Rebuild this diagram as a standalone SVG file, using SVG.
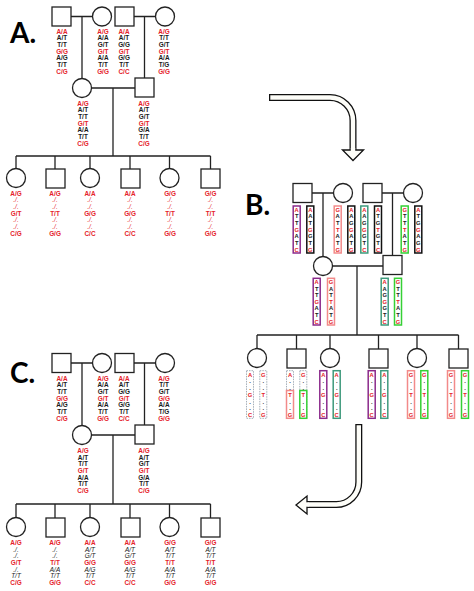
<svg xmlns="http://www.w3.org/2000/svg" width="474" height="591" viewBox="0 0 474 591">
<defs>
<style>
.s{fill:#fff;stroke:#222;stroke-width:1.3}
.ln{fill:none;stroke:#222;stroke-width:1.3}
.g{font-family:"Liberation Sans",Arial,sans-serif;font-size:6.4px;font-weight:bold;text-anchor:middle}
.r{fill:#e52129}
.k{fill:#1a1a1a}
.i{font-style:italic;font-weight:normal}
.lbl{font-family:Lato,"Open Sans",sans-serif;font-weight:bold;font-size:28px;fill:#000}
.hb{fill:#fff;stroke-width:1.5}
.h{font-family:"Liberation Sans",Arial,sans-serif;font-size:5.8px;font-weight:bold;text-anchor:middle}
.pu{stroke:#8b2a8b}
.sa{stroke:#f28a8a}
.te{stroke:#3e9a7c}
.gr{stroke:#35d035}
.bk{stroke:#111}
.dg{fill:#fff;stroke:#a4aeb8;stroke-dasharray:1.5 1;stroke-width:1}
.ao{fill:none;stroke:#111;stroke-width:7}
.ai{fill:none;stroke:#fdfdf8;stroke-width:4.4}
.ah{fill:#fdfdf8;stroke:#111;stroke-width:1.3}
</style>
</defs>
<rect width="474" height="591" fill="#fff"/>

<text class="lbl" x="10" y="43">A.</text>
<text class="lbl" x="245" y="215">B.</text>
<text class="lbl" x="10" y="383">C.</text>

<g id="connectors">
<path class="ln" d="M71 16.5H92.5M82 16.5V78.5M134 16.5H155.5M144.5 16.5V78M91.5 88H135M113 88V156M16 156H210.5M16 156V168.5M55 156V169M90 156V168.5M130 156V169M169.5 156V168.5M210.5 156V169"/>
<path class="ln" d="M71 363H92.5M82 363V425.5M134 363H155.5M144.5 363V425M91.5 435H135M113 435V504M16 504H210.5M16 504V517.5M55 504V518M90 504V517.5M130 504V518M169.5 504V517.5M210.5 504V518"/>
<path class="ln" d="M312 193H333.5M323 193V256.5M382 193H403.5M392.5 193V255.5M332.5 266H383M357 266V335M257 335H458.5M257 335V348.5M296.5 335V349M330 335V348.5M378.5 335V349M417 335V348.5M458.5 335V349"/>
</g>

<g id="arrows">
<path class="ao" d="M269 97.5H330A23 23 0 0 1 353 120.5V151"/>
<path class="ai" d="M270.3 97.5H330A23 23 0 0 1 353 120.5V151"/>
<polygon class="ah" points="342.5,150 363.5,150 353,160.5"/>
<path class="ai" d="M353 148V151.6"/>
<path class="ao" d="M358.8 424V482A22.5 22.5 0 0 1 336.3 504.5H306"/>
<path class="ai" d="M358.8 425.3V482A22.5 22.5 0 0 1 336.3 504.5H306"/>
<polygon class="ah" points="307,496 307,514 296,505"/>
<path class="ai" d="M308.6 504.5H305.4"/>
</g>

<!-- Panel A -->
<g id="a-f1"><rect class="s" x="52" y="7" width="19" height="19"/>
<text class="g" x="62" y="33.5"><tspan class="r">A/A</tspan><tspan x="62" dy="6.67" class="k">A/T</tspan><tspan x="62" dy="6.67" class="k">T/T</tspan><tspan x="62" dy="6.67" class="r">G/G</tspan><tspan x="62" dy="6.67" class="k">A/G</tspan><tspan x="62" dy="6.67" class="k">T/T</tspan><tspan x="62" dy="6.67" class="r">C/G</tspan></text></g>
<g id="a-m1"><circle class="s" cx="102" cy="16.5" r="9.5"/>
<text class="g" x="103" y="33.5"><tspan class="r">A/G</tspan><tspan x="103" dy="6.67" class="k">A/A</tspan><tspan x="103" dy="6.67" class="k">G/T</tspan><tspan x="103" dy="6.67" class="r">G/T</tspan><tspan x="103" dy="6.67" class="k">A/A</tspan><tspan x="103" dy="6.67" class="k">T/T</tspan><tspan x="103" dy="6.67" class="r">G/G</tspan></text></g>
<g id="a-f2"><rect class="s" x="115" y="7" width="19" height="19"/>
<text class="g" x="124" y="33.5"><tspan class="r">A/A</tspan><tspan x="124" dy="6.67" class="k">A/T</tspan><tspan x="124" dy="6.67" class="k">G/G</tspan><tspan x="124" dy="6.67" class="r">G/T</tspan><tspan x="124" dy="6.67" class="k">G/G</tspan><tspan x="124" dy="6.67" class="k">T/T</tspan><tspan x="124" dy="6.67" class="r">C/C</tspan></text></g>
<g id="a-m2"><circle class="s" cx="165" cy="16.5" r="9.5"/>
<text class="g" x="164" y="33.5"><tspan class="r">A/G</tspan><tspan x="164" dy="6.67" class="k">T/T</tspan><tspan x="164" dy="6.67" class="k">G/T</tspan><tspan x="164" dy="6.67" class="r">G/T</tspan><tspan x="164" dy="6.67" class="k">A/A</tspan><tspan x="164" dy="6.67" class="k">T/G</tspan><tspan x="164" dy="6.67" class="r">G/G</tspan></text></g>
<g id="a-m3"><circle class="s" cx="82" cy="88" r="9.5"/>
<text class="g" x="83" y="105.5"><tspan class="r">A/G</tspan><tspan x="83" dy="6.67" class="k">A/T</tspan><tspan x="83" dy="6.67" class="k">T/T</tspan><tspan x="83" dy="6.67" class="r">G/T</tspan><tspan x="83" dy="6.67" class="k">A/A</tspan><tspan x="83" dy="6.67" class="k">T/T</tspan><tspan x="83" dy="6.67" class="r">C/G</tspan></text></g>
<g id="a-f3"><rect class="s" x="135" y="78" width="19" height="19"/>
<text class="g" x="144" y="105.5"><tspan class="r">A/G</tspan><tspan x="144" dy="6.67" class="k">A/T</tspan><tspan x="144" dy="6.67" class="k">G/T</tspan><tspan x="144" dy="6.67" class="r">G/T</tspan><tspan x="144" dy="6.67" class="k">G/A</tspan><tspan x="144" dy="6.67" class="k">T/T</tspan><tspan x="144" dy="6.67" class="r">C/G</tspan></text></g>
<g id="a-c1"><circle class="s" cx="16" cy="178" r="9.5"/>
<text class="g r" x="16" y="195.5"><tspan>A/G</tspan><tspan x="16" dy="6.67" class="i">./.</tspan><tspan x="16" dy="6.67" class="i">./.</tspan><tspan x="16" dy="6.67">G/T</tspan><tspan x="16" dy="6.67" class="i">./.</tspan><tspan x="16" dy="6.67" class="i">./.</tspan><tspan x="16" dy="6.67">C/G</tspan></text></g>
<g id="a-c2"><rect class="s" x="46" y="169" width="19" height="19"/>
<text class="g r" x="55" y="195.5"><tspan>A/G</tspan><tspan x="55" dy="6.67" class="i">./.</tspan><tspan x="55" dy="6.67" class="i">./.</tspan><tspan x="55" dy="6.67">T/T</tspan><tspan x="55" dy="6.67" class="i">./.</tspan><tspan x="55" dy="6.67" class="i">./.</tspan><tspan x="55" dy="6.67">G/G</tspan></text></g>
<g id="a-c3"><circle class="s" cx="90" cy="178" r="9.5"/>
<text class="g r" x="90" y="195.5"><tspan>A/A</tspan><tspan x="90" dy="6.67" class="i">./.</tspan><tspan x="90" dy="6.67" class="i">./.</tspan><tspan x="90" dy="6.67">G/G</tspan><tspan x="90" dy="6.67" class="i">./.</tspan><tspan x="90" dy="6.67" class="i">./.</tspan><tspan x="90" dy="6.67">C/C</tspan></text></g>
<g id="a-c4"><rect class="s" x="121" y="169" width="19" height="19"/>
<text class="g r" x="130" y="195.5"><tspan>A/A</tspan><tspan x="130" dy="6.67" class="i">./.</tspan><tspan x="130" dy="6.67" class="i">./.</tspan><tspan x="130" dy="6.67">G/G</tspan><tspan x="130" dy="6.67" class="i">./.</tspan><tspan x="130" dy="6.67" class="i">./.</tspan><tspan x="130" dy="6.67">C/C</tspan></text></g>
<g id="a-c5"><circle class="s" cx="169.5" cy="178" r="9.5"/>
<text class="g r" x="170" y="195.5"><tspan>G/G</tspan><tspan x="170" dy="6.67" class="i">./.</tspan><tspan x="170" dy="6.67" class="i">./.</tspan><tspan x="170" dy="6.67">T/T</tspan><tspan x="170" dy="6.67" class="i">./.</tspan><tspan x="170" dy="6.67" class="i">./.</tspan><tspan x="170" dy="6.67">G/G</tspan></text></g>
<g id="a-c6"><rect class="s" x="201" y="169" width="19" height="19"/>
<text class="g r" x="210.5" y="195.5"><tspan>G/G</tspan><tspan x="210.5" dy="6.67" class="i">./.</tspan><tspan x="210.5" dy="6.67" class="i">./.</tspan><tspan x="210.5" dy="6.67">T/T</tspan><tspan x="210.5" dy="6.67" class="i">./.</tspan><tspan x="210.5" dy="6.67" class="i">./.</tspan><tspan x="210.5" dy="6.67">G/G</tspan></text></g>

<!-- Panel C -->
<g id="c-f1"><rect class="s" x="52" y="353.5" width="19" height="19"/>
<text class="g" x="62" y="380.5"><tspan class="r">A/A</tspan><tspan x="62" dy="6.67" class="k">A/T</tspan><tspan x="62" dy="6.67" class="k">T/T</tspan><tspan x="62" dy="6.67" class="r">G/G</tspan><tspan x="62" dy="6.67" class="k">A/G</tspan><tspan x="62" dy="6.67" class="k">T/T</tspan><tspan x="62" dy="6.67" class="r">C/G</tspan></text></g>
<g id="c-m1"><circle class="s" cx="102" cy="363" r="9.5"/>
<text class="g" x="103" y="380.5"><tspan class="r">A/G</tspan><tspan x="103" dy="6.67" class="k">A/A</tspan><tspan x="103" dy="6.67" class="k">G/T</tspan><tspan x="103" dy="6.67" class="r">G/T</tspan><tspan x="103" dy="6.67" class="k">A/A</tspan><tspan x="103" dy="6.67" class="k">T/T</tspan><tspan x="103" dy="6.67" class="r">G/G</tspan></text></g>
<g id="c-f2"><rect class="s" x="115" y="353.5" width="19" height="19"/>
<text class="g" x="124" y="380.5"><tspan class="r">A/A</tspan><tspan x="124" dy="6.67" class="k">A/T</tspan><tspan x="124" dy="6.67" class="k">G/G</tspan><tspan x="124" dy="6.67" class="r">G/T</tspan><tspan x="124" dy="6.67" class="k">G/G</tspan><tspan x="124" dy="6.67" class="k">T/T</tspan><tspan x="124" dy="6.67" class="r">C/C</tspan></text></g>
<g id="c-m2"><circle class="s" cx="165" cy="363" r="9.5"/>
<text class="g" x="164" y="380.5"><tspan class="r">A/G</tspan><tspan x="164" dy="6.67" class="k">T/T</tspan><tspan x="164" dy="6.67" class="k">G/T</tspan><tspan x="164" dy="6.67" class="r">G/G</tspan><tspan x="164" dy="6.67" class="k">A/A</tspan><tspan x="164" dy="6.67" class="k">T/G</tspan><tspan x="164" dy="6.67" class="r">G/G</tspan></text></g>
<g id="c-m3"><circle class="s" cx="82" cy="435" r="9.5"/>
<text class="g" x="83" y="453"><tspan class="r">A/G</tspan><tspan x="83" dy="6.67" class="k">A/T</tspan><tspan x="83" dy="6.67" class="k">T/T</tspan><tspan x="83" dy="6.67" class="r">G/T</tspan><tspan x="83" dy="6.67" class="k">A/A</tspan><tspan x="83" dy="6.67" class="k">T/T</tspan><tspan x="83" dy="6.67" class="r">C/G</tspan></text></g>
<g id="c-f3"><rect class="s" x="135" y="425" width="19" height="19"/>
<text class="g" x="144" y="453"><tspan class="r">A/G</tspan><tspan x="144" dy="6.67" class="k">A/T</tspan><tspan x="144" dy="6.67" class="k">G/T</tspan><tspan x="144" dy="6.67" class="r">G/T</tspan><tspan x="144" dy="6.67" class="k">G/A</tspan><tspan x="144" dy="6.67" class="k">T/T</tspan><tspan x="144" dy="6.67" class="r">C/G</tspan></text></g>
<g id="c-c1"><circle class="s" cx="16" cy="527" r="9.5"/>
<text class="g" x="16" y="545"><tspan class="r">A/G</tspan><tspan x="16" dy="6.67" class="k i">./.</tspan><tspan x="16" dy="6.67" class="k i">./.</tspan><tspan x="16" dy="6.67" class="r">G/T</tspan><tspan x="16" dy="6.67" class="k i">./.</tspan><tspan x="16" dy="6.67" class="k i">T/T</tspan><tspan x="16" dy="6.67" class="r">C/G</tspan></text></g>
<g id="c-c2"><rect class="s" x="46" y="518" width="19" height="19"/>
<text class="g" x="55" y="545"><tspan class="r">A/G</tspan><tspan x="55" dy="6.67" class="k i">./.</tspan><tspan x="55" dy="6.67" class="k i">./.</tspan><tspan x="55" dy="6.67" class="r">T/T</tspan><tspan x="55" dy="6.67" class="k i">A/A</tspan><tspan x="55" dy="6.67" class="k i">T/T</tspan><tspan x="55" dy="6.67" class="r">G/G</tspan></text></g>
<g id="c-c3"><circle class="s" cx="90" cy="527" r="9.5"/>
<text class="g" x="90" y="545"><tspan class="r">A/A</tspan><tspan x="90" dy="6.67" class="k i">A/T</tspan><tspan x="90" dy="6.67" class="k i">G/T</tspan><tspan x="90" dy="6.67" class="r">G/G</tspan><tspan x="90" dy="6.67" class="k i">A/G</tspan><tspan x="90" dy="6.67" class="k i">T/T</tspan><tspan x="90" dy="6.67" class="r">C/C</tspan></text></g>
<g id="c-c4"><rect class="s" x="121" y="518" width="19" height="19"/>
<text class="g" x="130" y="545"><tspan class="r">A/A</tspan><tspan x="130" dy="6.67" class="k i">A/T</tspan><tspan x="130" dy="6.67" class="k i">G/T</tspan><tspan x="130" dy="6.67" class="r">G/G</tspan><tspan x="130" dy="6.67" class="k i">A/G</tspan><tspan x="130" dy="6.67" class="k i">T/T</tspan><tspan x="130" dy="6.67" class="r">C/C</tspan></text></g>
<g id="c-c5"><circle class="s" cx="169.5" cy="527" r="9.5"/>
<text class="g" x="170" y="545"><tspan class="r">G/G</tspan><tspan x="170" dy="6.67" class="k i">A/T</tspan><tspan x="170" dy="6.67" class="k i">T/T</tspan><tspan x="170" dy="6.67" class="r">T/T</tspan><tspan x="170" dy="6.67" class="k i">A/A</tspan><tspan x="170" dy="6.67" class="k i">T/T</tspan><tspan x="170" dy="6.67" class="r">G/G</tspan></text></g>
<g id="c-c6"><rect class="s" x="201" y="518" width="19" height="19"/>
<text class="g" x="210.5" y="545"><tspan class="r">G/G</tspan><tspan x="210.5" dy="6.67" class="k i">A/T</tspan><tspan x="210.5" dy="6.67" class="k i">T/T</tspan><tspan x="210.5" dy="6.67" class="r">T/T</tspan><tspan x="210.5" dy="6.67" class="k i">A/A</tspan><tspan x="210.5" dy="6.67" class="k i">T/T</tspan><tspan x="210.5" dy="6.67" class="r">G/G</tspan></text></g>

<!-- Panel B -->
<g id="b-f1"><rect class="s" x="293" y="183.5" width="19" height="19"/>
<rect class="hb pu" x="293.2" y="206" width="7" height="47"/>
<text class="h" x="296.7" y="211.7"><tspan class="r">A</tspan><tspan x="296.7" dy="6.65" class="k">T</tspan><tspan x="296.7" dy="6.65" class="k">T</tspan><tspan x="296.7" dy="6.65" class="r">G</tspan><tspan x="296.7" dy="6.65" class="k">A</tspan><tspan x="296.7" dy="6.65" class="k">T</tspan><tspan x="296.7" dy="6.65" class="r">C</tspan></text>
<rect class="hb bk" x="306.8" y="206" width="7" height="47"/>
<text class="h" x="310.3" y="211.7"><tspan class="r">A</tspan><tspan x="310.3" dy="6.65" class="k">A</tspan><tspan x="310.3" dy="6.65" class="k">T</tspan><tspan x="310.3" dy="6.65" class="r">G</tspan><tspan x="310.3" dy="6.65" class="k">G</tspan><tspan x="310.3" dy="6.65" class="k">T</tspan><tspan x="310.3" dy="6.65" class="r">G</tspan></text></g>
<g id="b-m1"><circle class="s" cx="343" cy="193" r="9.5"/>
<rect class="hb sa" x="334.2" y="206" width="7" height="47"/>
<text class="h" x="337.7" y="211.7"><tspan class="r">G</tspan><tspan x="337.7" dy="6.65" class="k">A</tspan><tspan x="337.7" dy="6.65" class="k">T</tspan><tspan x="337.7" dy="6.65" class="r">T</tspan><tspan x="337.7" dy="6.65" class="k">A</tspan><tspan x="337.7" dy="6.65" class="k">T</tspan><tspan x="337.7" dy="6.65" class="r">G</tspan></text>
<rect class="hb bk" x="347.8" y="206" width="7" height="47"/>
<text class="h" x="351.3" y="211.7"><tspan class="r">A</tspan><tspan x="351.3" dy="6.65" class="k">A</tspan><tspan x="351.3" dy="6.65" class="k">G</tspan><tspan x="351.3" dy="6.65" class="r">G</tspan><tspan x="351.3" dy="6.65" class="k">A</tspan><tspan x="351.3" dy="6.65" class="k">T</tspan><tspan x="351.3" dy="6.65" class="r">G</tspan></text></g>
<g id="b-f2"><rect class="s" x="363" y="183.5" width="19" height="19"/>
<rect class="hb te" x="360.8" y="206" width="7" height="47"/>
<text class="h" x="364.3" y="211.7"><tspan class="r">A</tspan><tspan x="364.3" dy="6.65" class="k">A</tspan><tspan x="364.3" dy="6.65" class="k">G</tspan><tspan x="364.3" dy="6.65" class="r">G</tspan><tspan x="364.3" dy="6.65" class="k">G</tspan><tspan x="364.3" dy="6.65" class="k">T</tspan><tspan x="364.3" dy="6.65" class="r">C</tspan></text>
<rect class="hb bk" x="374.5" y="206" width="7" height="47"/>
<text class="h" x="378" y="211.7"><tspan class="r">A</tspan><tspan x="378" dy="6.65" class="k">T</tspan><tspan x="378" dy="6.65" class="k">G</tspan><tspan x="378" dy="6.65" class="r">T</tspan><tspan x="378" dy="6.65" class="k">G</tspan><tspan x="378" dy="6.65" class="k">T</tspan><tspan x="378" dy="6.65" class="r">C</tspan></text></g>
<g id="b-m2"><circle class="s" cx="413" cy="193" r="9.5"/>
<rect class="hb gr" x="401.2" y="206" width="7" height="47"/>
<text class="h" x="404.7" y="211.7"><tspan class="r">G</tspan><tspan x="404.7" dy="6.65" class="k">T</tspan><tspan x="404.7" dy="6.65" class="k">T</tspan><tspan x="404.7" dy="6.65" class="r">T</tspan><tspan x="404.7" dy="6.65" class="k">A</tspan><tspan x="404.7" dy="6.65" class="k">T</tspan><tspan x="404.7" dy="6.65" class="r">G</tspan></text>
<rect class="hb bk" x="414.8" y="206" width="7" height="47"/>
<text class="h" x="418.3" y="211.7"><tspan class="r">A</tspan><tspan x="418.3" dy="6.65" class="k">T</tspan><tspan x="418.3" dy="6.65" class="k">G</tspan><tspan x="418.3" dy="6.65" class="r">G</tspan><tspan x="418.3" dy="6.65" class="k">A</tspan><tspan x="418.3" dy="6.65" class="k">G</tspan><tspan x="418.3" dy="6.65" class="r">G</tspan></text></g>
<g id="b-m3"><circle class="s" cx="323" cy="266" r="9.5"/>
<rect class="hb pu" x="313.2" y="278.3" width="7" height="46.7"/>
<text class="h" x="316.7" y="284"><tspan class="r">A</tspan><tspan x="316.7" dy="6.62" class="k">T</tspan><tspan x="316.7" dy="6.62" class="k">T</tspan><tspan x="316.7" dy="6.62" class="r">G</tspan><tspan x="316.7" dy="6.62" class="k">A</tspan><tspan x="316.7" dy="6.62" class="k">T</tspan><tspan x="316.7" dy="6.62" class="r">C</tspan></text>
<rect class="hb sa" x="327.5" y="278.3" width="7" height="46.7"/>
<text class="h" x="331" y="284"><tspan class="r">G</tspan><tspan x="331" dy="6.62" class="k">A</tspan><tspan x="331" dy="6.62" class="k">T</tspan><tspan x="331" dy="6.62" class="r">T</tspan><tspan x="331" dy="6.62" class="k">A</tspan><tspan x="331" dy="6.62" class="k">T</tspan><tspan x="331" dy="6.62" class="r">G</tspan></text></g>
<g id="b-f3"><rect class="s" x="383" y="255.5" width="19" height="19"/>
<rect class="hb te" x="381.2" y="278.3" width="7" height="46.7"/>
<text class="h" x="384.7" y="284"><tspan class="r">A</tspan><tspan x="384.7" dy="6.62" class="k">A</tspan><tspan x="384.7" dy="6.62" class="k">G</tspan><tspan x="384.7" dy="6.62" class="r">G</tspan><tspan x="384.7" dy="6.62" class="k">G</tspan><tspan x="384.7" dy="6.62" class="k">T</tspan><tspan x="384.7" dy="6.62" class="r">C</tspan></text>
<rect class="hb gr" x="394.5" y="278.3" width="7" height="46.7"/>
<text class="h" x="398" y="284"><tspan class="r">G</tspan><tspan x="398" dy="6.62" class="k">T</tspan><tspan x="398" dy="6.62" class="k">T</tspan><tspan x="398" dy="6.62" class="r">T</tspan><tspan x="398" dy="6.62" class="k">A</tspan><tspan x="398" dy="6.62" class="k">T</tspan><tspan x="398" dy="6.62" class="r">G</tspan></text></g>

<g id="b-c1"><circle class="s" cx="257" cy="358" r="9.5"/>
<rect class="dg" x="246.5" y="370.7" width="7" height="47.6"/>
<text class="h" x="250" y="376.5"><tspan class="r">A</tspan><tspan x="250" dy="6.75" class="k">.</tspan><tspan x="250" dy="6.75" class="k">.</tspan><tspan x="250" dy="6.75" class="r">G</tspan><tspan x="250" dy="6.75" class="k">.</tspan><tspan x="250" dy="6.75" class="k">.</tspan><tspan x="250" dy="6.75" class="r">C</tspan></text>
<rect class="dg" x="259.8" y="370.7" width="7" height="47.6"/>
<text class="h" x="263.3" y="376.5"><tspan class="r">G</tspan><tspan x="263.3" dy="6.75" class="k">.</tspan><tspan x="263.3" dy="6.75" class="k">.</tspan><tspan x="263.3" dy="6.75" class="r">T</tspan><tspan x="263.3" dy="6.75" class="k">.</tspan><tspan x="263.3" dy="6.75" class="k">.</tspan><tspan x="263.3" dy="6.75" class="r">G</tspan></text></g>
<g id="b-c2"><rect class="s" x="287" y="349" width="19" height="19"/>
<rect class="dg" x="286.5" y="370.7" width="7" height="47.6"/>
<rect class="hb sa" x="286.5" y="390.5" width="7" height="27.8"/>
<text class="h" x="290" y="376.5"><tspan class="r">A</tspan><tspan x="290" dy="6.75" class="k">.</tspan><tspan x="290" dy="6.75" class="k">.</tspan><tspan x="290" dy="6.75" class="r">T</tspan><tspan x="290" dy="6.75" class="k">.</tspan><tspan x="290" dy="6.75" class="k">.</tspan><tspan x="290" dy="6.75" class="r">G</tspan></text>
<rect class="dg" x="299.8" y="370.7" width="7" height="47.6"/>
<rect class="hb gr" x="299.8" y="390.5" width="7" height="27.8"/>
<text class="h" x="303.3" y="376.5"><tspan class="r">G</tspan><tspan x="303.3" dy="6.75" class="k">.</tspan><tspan x="303.3" dy="6.75" class="k">.</tspan><tspan x="303.3" dy="6.75" class="r">T</tspan><tspan x="303.3" dy="6.75" class="k">.</tspan><tspan x="303.3" dy="6.75" class="k">.</tspan><tspan x="303.3" dy="6.75" class="r">G</tspan></text></g>
<g id="b-c3"><circle class="s" cx="330" cy="358" r="9.5"/>
<rect class="hb pu" x="319.8" y="370.7" width="7" height="47.6"/>
<text class="h" x="323.3" y="376.5"><tspan class="r">A</tspan><tspan x="323.3" dy="6.75" class="k">.</tspan><tspan x="323.3" dy="6.75" class="k">.</tspan><tspan x="323.3" dy="6.75" class="r">G</tspan><tspan x="323.3" dy="6.75" class="k">.</tspan><tspan x="323.3" dy="6.75" class="k">.</tspan><tspan x="323.3" dy="6.75" class="r">C</tspan></text>
<rect class="hb te" x="333.2" y="370.7" width="7" height="47.6"/>
<text class="h" x="336.7" y="376.5"><tspan class="r">A</tspan><tspan x="336.7" dy="6.75" class="k">.</tspan><tspan x="336.7" dy="6.75" class="k">.</tspan><tspan x="336.7" dy="6.75" class="r">G</tspan><tspan x="336.7" dy="6.75" class="k">.</tspan><tspan x="336.7" dy="6.75" class="k">.</tspan><tspan x="336.7" dy="6.75" class="r">C</tspan></text></g>
<g id="b-c4"><rect class="s" x="369" y="349" width="19" height="19"/>
<rect class="hb pu" x="368.2" y="370.7" width="7" height="47.6"/>
<text class="h" x="371.7" y="376.5"><tspan class="r">A</tspan><tspan x="371.7" dy="6.75" class="k">.</tspan><tspan x="371.7" dy="6.75" class="k">.</tspan><tspan x="371.7" dy="6.75" class="r">G</tspan><tspan x="371.7" dy="6.75" class="k">.</tspan><tspan x="371.7" dy="6.75" class="k">.</tspan><tspan x="371.7" dy="6.75" class="r">C</tspan></text>
<rect class="hb te" x="380.8" y="370.7" width="7" height="47.6"/>
<text class="h" x="384.3" y="376.5"><tspan class="r">A</tspan><tspan x="384.3" dy="6.75" class="k">.</tspan><tspan x="384.3" dy="6.75" class="k">.</tspan><tspan x="384.3" dy="6.75" class="r">G</tspan><tspan x="384.3" dy="6.75" class="k">.</tspan><tspan x="384.3" dy="6.75" class="k">.</tspan><tspan x="384.3" dy="6.75" class="r">C</tspan></text></g>
<g id="b-c5"><circle class="s" cx="417" cy="358" r="9.5"/>
<rect class="hb sa" x="407.5" y="370.7" width="7" height="47.6"/>
<text class="h" x="411" y="376.5"><tspan class="r">G</tspan><tspan x="411" dy="6.75" class="k">.</tspan><tspan x="411" dy="6.75" class="k">.</tspan><tspan x="411" dy="6.75" class="r">T</tspan><tspan x="411" dy="6.75" class="k">.</tspan><tspan x="411" dy="6.75" class="k">.</tspan><tspan x="411" dy="6.75" class="r">G</tspan></text>
<rect class="hb gr" x="420.8" y="370.7" width="7" height="47.6"/>
<text class="h" x="424.3" y="376.5"><tspan class="r">G</tspan><tspan x="424.3" dy="6.75" class="k">.</tspan><tspan x="424.3" dy="6.75" class="k">.</tspan><tspan x="424.3" dy="6.75" class="r">T</tspan><tspan x="424.3" dy="6.75" class="k">.</tspan><tspan x="424.3" dy="6.75" class="k">.</tspan><tspan x="424.3" dy="6.75" class="r">G</tspan></text></g>
<g id="b-c6"><rect class="s" x="449" y="349" width="19" height="19"/>
<rect class="hb sa" x="447.5" y="370.7" width="7" height="47.6"/>
<text class="h" x="451" y="376.5"><tspan class="r">G</tspan><tspan x="451" dy="6.75" class="k">.</tspan><tspan x="451" dy="6.75" class="k">.</tspan><tspan x="451" dy="6.75" class="r">T</tspan><tspan x="451" dy="6.75" class="k">.</tspan><tspan x="451" dy="6.75" class="k">.</tspan><tspan x="451" dy="6.75" class="r">G</tspan></text>
<rect class="hb gr" x="461.5" y="370.7" width="7" height="47.6"/>
<text class="h" x="465" y="376.5"><tspan class="r">G</tspan><tspan x="465" dy="6.75" class="k">.</tspan><tspan x="465" dy="6.75" class="k">.</tspan><tspan x="465" dy="6.75" class="r">T</tspan><tspan x="465" dy="6.75" class="k">.</tspan><tspan x="465" dy="6.75" class="k">.</tspan><tspan x="465" dy="6.75" class="r">G</tspan></text></g>
</svg>
